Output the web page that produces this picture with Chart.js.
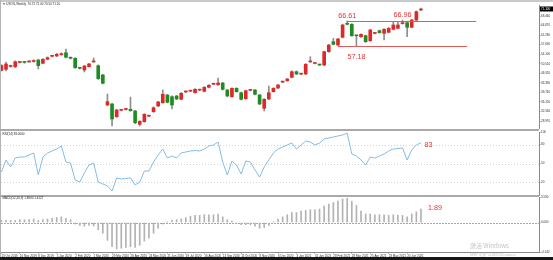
<!DOCTYPE html>
<html><head><meta charset="utf-8">
<script src="https://cdn.jsdelivr.net/npm/chart.js@4.4.0/dist/chart.umd.min.js"></script>
<style>
html,body{margin:0;padding:0;background:#fff;overflow:hidden;}
#wrap{position:relative;width:553px;height:260px;overflow:hidden;background:#fff;}
#wrap canvas{position:absolute;left:0;}
.bar{position:absolute;}
</style></head><body>
<div id="wrap">
 <div class="bar" style="left:0;top:0;width:553px;height:2px;background:#c9c9c9"></div>
 <div class="bar" style="left:0;top:0;width:1px;height:257px;background:#b4b4b4"></div>
 <div class="bar" style="left:0;top:129px;width:539px;height:2px;background:#a9a9a9"></div>
 <div class="bar" style="left:0;top:194.5px;width:539px;height:2px;background:#a9a9a9"></div>
 <div class="bar" style="left:0;top:257px;width:553px;height:3px;background:#151515"></div>
 <canvas id="c1" width="553" height="129" style="top:2px"></canvas>
 <canvas id="c2" width="553" height="69" style="top:129px"></canvas>
 <canvas id="c3" width="553" height="63" style="top:194px"></canvas>
</div>
<script>
// ---------------- data (weekly candles) ----------------
const opens  = [48.0,48.42,49.48,49.40,51.0,51.1,51.2,51.36,51.92,50.68,52.18,53.3,53.42,53.91,54.66,52.86,52.56,48.9,48.16,49.40,51.2,49.78,46.28,35.00,35.38,30.60,33.0,33.3,33.38,32.74,27.74,28.72,30.8,32.48,34.62,35.87,38.76,38.12,38.38,37.14,39.9,40.2,39.62,40.6,40.15,41.66,42.8,42.63,43.27,40.64,38.12,41.28,39.62,37.37,40.5,40.64,38.76,33.76,37.26,40.00,41.39,43.6,44.14,45.42,47.52,46.6,46.66,51.2,50.6,50.1,50.04,55.04,58.80,57.56,60.46,65.72,65.34,61.1,60.68,61.06,59.18,61.9,62.94,61.96,62.34,63.46,63.84,65.6,65.95,64.21,66.96,70.72];
const highs  = [50.2,51.17,50.0,51.6,51.4,51.4,51.6,52.0,52.2,52.5,53.1,53.7,54.4,54.6,56.06,53.1,52.8,49.1,49.9,50.7,52.67,50.1,46.5,39.13,35.6,33.4,33.4,33.7,38.0,33.0,29.1,31.8,31.1,34.3,36.4,40.64,39.0,38.4,38.6,39.7,40.3,40.5,41.2,40.9,41.9,42.7,43.2,45.15,43.5,40.9,41.5,41.5,39.9,40.6,40.9,40.9,39.0,37.4,42.14,41.5,42.8,44.0,45.0,47.8,47.8,46.9,50.6,53.16,50.9,50.3,55.3,57.8,60.08,60.1,65.4,66.61,65.6,61.3,61.8,61.3,63.5,62.2,63.2,63.7,64.1,66.3,66.5,66.96,66.3,67.2,70.4,71.4];
const lows   = [47.8,47.78,49.2,49.0,50.8,50.7,51.0,51.1,48.54,50.4,52.0,53.1,53.2,53.7,52.7,52.3,48.8,48.5,47.41,49.2,51.0,44.6,42.9,34.7,27.10,30.3,32.8,33.1,32.6,28.0,27.10,28.5,30.6,32.2,34.4,35.6,35.8,33.50,37.0,36.9,39.7,40.0,39.4,40.4,39.9,41.4,42.6,42.4,40.6,38.1,37.9,39.8,36.9,37.1,40.3,38.8,35.1,32.74,37.0,39.8,41.1,43.4,43.9,45.2,46.4,46.4,46.4,51.0,50.4,49.8,49.8,54.8,57.6,57.3,60.2,65.1,60.8,57.18,60.4,58.5,58.9,61.7,62.0,59.44,62.1,63.2,63.6,65.4,60.68,64.0,66.7,70.5];
const closes = [49.9,50.42,49.66,51.28,51.1,51.0,51.3,51.73,49.78,52.18,52.78,53.42,54.06,54.29,52.94,52.56,49.02,48.8,49.66,50.42,51.28,44.89,43.16,36.24,29.74,33.12,33.12,33.38,32.86,28.34,28.87,31.50,30.86,33.98,36.13,39.02,36.02,35.00,37.26,39.40,40.0,40.26,40.90,40.64,41.66,42.41,42.90,43.27,40.90,38.38,41.28,40.00,37.14,40.38,40.64,39.02,35.38,37.14,39.62,41.28,42.52,43.76,44.78,47.52,46.66,46.66,50.30,51.28,50.68,50.04,55.04,57.56,57.82,59.82,65.08,65.34,61.06,61.0,61.58,58.80,63.20,61.96,62.19,63.46,63.84,65.08,65.08,65.72,64.21,66.96,70.08,71.10];
const rsiValues  = [36.5,55.6,44.4,58.7,60.3,60.3,63.5,66.7,31.7,60.3,66.7,69.8,73.0,77.8,52.4,50.8,23.8,20.6,34.9,47.6,50.8,20.6,17.5,14.3,6.3,27.0,25.4,26.2,27.0,15.9,20.6,38.0,38.0,52.4,63.5,73.0,58.7,61.9,58.7,66.7,68.3,69.8,70.6,69.8,73.0,77.8,79.4,84.1,52.4,31.7,54.0,47.6,33.3,54.0,52.4,39.7,28.6,44.4,55.6,66.7,73.0,76.2,79.4,82.5,73.0,79.4,85.7,84.1,79.4,82.5,88.9,90.5,92.1,93.7,95.2,98.4,65.1,61.9,55.6,47.6,60.3,58.7,61.9,65.1,69.8,73.0,73.8,74.6,55.6,71.4,79.4,83.0];
const macdValues = [0.3,0.3,0.3,0.3,0.4,0.4,0.4,0.5,0.3,0.4,0.5,0.6,0.7,0.8,0.6,0.4,-0.2,-0.4,-0.5,-0.4,-0.5,-1.0,-1.5,-2.5,-3.4,-3.7,-3.6,-3.5,-3.4,-3.5,-3.2,-2.6,-2.2,-1.5,-0.8,-0.2,0.1,0.3,0.4,0.5,0.7,0.9,1.0,1.0,1.1,1.1,1.1,1.2,0.8,0.4,0.2,-0.1,-0.3,-0.3,-0.3,-0.5,-0.8,-0.7,-0.4,0.1,0.5,0.8,1.1,1.4,1.4,1.6,1.7,1.8,1.8,1.9,2.3,2.6,2.8,3.0,3.3,3.4,3.0,2.4,1.6,1.2,1.2,1.1,1.1,1.1,1.0,1.1,1.0,1.0,0.8,1.2,1.5,1.89];
const macdSignal = 1.4127;
const priceTicks = [68.46,64.87,61.28,57.69,54.10,50.51,46.92,43.33,39.74,36.15,32.56,28.97];
const rsiTicks = [100,80,50,20];
const rsiLevels = [80,50,20];
const macdTicks = [3.59,0,-4.14];
const tickLabels = ['13 Oct 2019','10 Nov 2019','8 Dec 2019','5 Jan 2020','2 Feb 2020','1 Mar 2020','29 Mar 2020','26 Apr 2020','24 May 2020','21 Jun 2020','19 Jul 2020','16 Aug 2020','13 Sep 2020','11 Oct 2020','8 Nov 2020','6 Dec 2020','3 Jan 2021','31 Jan 2021','28 Feb 2021','28 Mar 2021','25 Apr 2021','23 May 2021','20 Jun 2021'];
const TICK_EVERY = 4;
const symbolTitle = 'USOIL,Weekly';
// annotations: indices of marked candles and level lines (in candle units)
const highMarks = [75, 87];
const lowMarks = [77];
const levelLines = [{value: 66.61, from: 75, to: 103}, {value: 57.18, from: 73, to: 101}];

// ---------------- config ----------------
const FONT = '"Liberation Sans", Arial, sans-serif';
const UP = '#dc2a2a', DOWN = '#1e8c22', WICK = '#8e8e8e';
const XMIN = -0.087, XMAX = 116.6;
const last = closes.length - 1;
Chart.defaults.font.family = FONT;

const xHidden = {type:'linear', min:XMIN, max:XMAX, offset:false, grid:{offset:false}, display:false};
function rightAxis(min, max, ticks, fmt){
  return {type:'linear', position:'right', min, max,
    afterFit(s){ s.width = 14; },
    afterBuildTicks(s){ s.ticks = ticks.map(v => ({value:v})); },
    ticks:{font:{size:3}, color:'#333', padding:0.5, autoSkip:false, callback:fmt},
    grid:{drawOnChartArea:false, tickLength:1.5, color:'#888'},
    border:{color:'#8a8a8a'}};
}
const common = {responsive:false, animation:false, events:[], plugins:{legend:{display:false}, tooltip:{enabled:false}}};

// ---- main price pane ----
const mainText = {
  id:'mainText',
  afterDatasetsDraw(chart){
    const {ctx, scales:{x, y}, chartArea:a} = chart;
    ctx.save();
    ctx.strokeStyle = '#e05a5a'; ctx.lineWidth = 1;
    levelLines.forEach(L => {
      const py = Math.round(y.getPixelForValue(L.value)) + 0.5;
      ctx.beginPath(); ctx.moveTo(x.getPixelForValue(L.from), py); ctx.lineTo(x.getPixelForValue(L.to), py); ctx.stroke();
    });
    ctx.fillStyle = '#e03434'; ctx.font = '7.2px ' + FONT; ctx.textAlign = 'center';
    ctx.textBaseline = 'alphabetic';
    highMarks.forEach(k => ctx.fillText(highs[k].toFixed(2), x.getPixelForValue(k), y.getPixelForValue(highs[k]) - 3.3));
    ctx.textBaseline = 'top';
    lowMarks.forEach(k => ctx.fillText(lows[k].toFixed(2), x.getPixelForValue(k), y.getPixelForValue(lows[k]) + 7.5));
    // last price box
    const py = y.getPixelForValue(closes[last]);
    ctx.fillStyle = '#000'; ctx.fillRect(a.right + 1, py - 2.5, chart.width - a.right - 1, 5);
    ctx.fillStyle = '#fff'; ctx.font = '3px ' + FONT; ctx.textAlign = 'left'; ctx.textBaseline = 'middle';
    ctx.fillText(closes[last].toFixed(3), a.right + 2, py);
    // title
    ctx.fillStyle = '#222'; ctx.textBaseline = 'top'; ctx.font = '3px ' + FONT;
    ctx.fillText('\u25BC ' + symbolTitle + '  ' + [opens[last], highs[last], lows[last], closes[last]].map(v => v.toFixed(2)).join(' '), 2.5, 0.9);
    ctx.restore();
  }
};
new Chart(document.getElementById('c1'), {
  type:'bar',
  data:{datasets:[
    {data: opens.map((o, j) => ({x:j, y:[o, closes[j]]})), grouped:false, barThickness:3, minBarLength:1, borderWidth:0,
     backgroundColor: c => closes[c.dataIndex] >= opens[c.dataIndex] ? UP : DOWN},
    {data: lows.map((l, j) => ({x:j, y:[l, highs[j]]})), grouped:false, barThickness:1, borderWidth:0, backgroundColor: WICK}
  ]},
  options:{...common, layout:{padding:{left:1, right:0, top:3, bottom:3}},
    scales:{x:xHidden, y:rightAxis(26.35, 72.6, priceTicks, v => v.toFixed(3))}},
  plugins:[mainText]
});

// ---- RSI pane ----
const rsiText = {
  id:'rsiText',
  beforeDatasetsDraw(chart){
    const {ctx, scales:{y}, chartArea:a} = chart;
    ctx.save(); ctx.strokeStyle = '#d4d4d4'; ctx.lineWidth = 1; ctx.setLineDash([1, 2]);
    rsiLevels.forEach(v => { const py = Math.round(y.getPixelForValue(v)) + 0.5; ctx.beginPath(); ctx.moveTo(a.left, py); ctx.lineTo(a.right, py); ctx.stroke(); });
    ctx.restore();
  },
  afterDatasetsDraw(chart){
    const {ctx, scales:{x, y}} = chart;
    ctx.save();
    ctx.fillStyle = '#222'; ctx.font = '3px ' + FONT; ctx.textBaseline = 'top'; ctx.textAlign = 'left';
    ctx.fillText('RSI(14) ' + rsiValues[last].toFixed(4), 2.5, 3.8);
    ctx.fillStyle = '#e03434'; ctx.font = '7.2px ' + FONT; ctx.textBaseline = 'middle';
    ctx.fillText(String(Math.round(rsiValues[last])), x.getPixelForValue(last) + 3.5, y.getPixelForValue(rsiValues[last]) + 2.5);
    ctx.restore();
  }
};
new Chart(document.getElementById('c2'), {
  type:'line',
  data:{datasets:[{data: rsiValues.map((v, j) => ({x:j, y:v})), borderColor:'#86bbe6', borderWidth:1, pointRadius:0, tension:0, fill:false}]},
  options:{...common, layout:{padding:{left:1, right:0, top:3, bottom:3}},
    scales:{x:xHidden, y:rightAxis(0, 100, rsiTicks, v => String(v))}},
  plugins:[rsiText]
});

// ---- MACD pane ----
const macdText = {
  id:'macdText',
  beforeDatasetsDraw(chart){
    const {ctx, scales:{y}, chartArea:a} = chart;
    ctx.save(); ctx.strokeStyle = '#e88a8a'; ctx.lineWidth = 1; ctx.setLineDash([2, 1]);
    const py = Math.round(y.getPixelForValue(0)) + 0.5;
    ctx.beginPath(); ctx.moveTo(a.left, py); ctx.lineTo(a.right, py); ctx.stroke();
    ctx.restore();
  },
  afterDatasetsDraw(chart){
    const {ctx, scales:{x, y}} = chart;
    ctx.save();
    ctx.fillStyle = '#222'; ctx.font = '3px ' + FONT; ctx.textBaseline = 'top'; ctx.textAlign = 'left';
    ctx.fillText('MACD(12,26,9) ' + macdValues[last].toFixed(4) + ' ' + macdSignal.toFixed(4), 2.5, 2.8);
    ctx.fillStyle = '#e03434'; ctx.font = '7.2px ' + FONT; ctx.textBaseline = 'middle';
    ctx.fillText(macdValues[last].toFixed(2), x.getPixelForValue(last) + 7, y.getPixelForValue(macdValues[last]) - 1);
    // Windows activation watermark
    ctx.fillStyle = '#c2c2c2'; ctx.textBaseline = 'top';
    ctx.font = '6px "Noto Sans CJK SC", ' + FONT;
    ctx.fillText('激活 Windows', 470, 48.5);
    ctx.font = '3.6px "Noto Sans CJK SC", ' + FONT;
    ctx.fillText('转到"设置"以激活 Windows。', 470, 58.6);
    ctx.restore();
  }
};
new Chart(document.getElementById('c3'), {
  type:'bar',
  data:{datasets:[{data: macdValues.map((v, j) => ({x:j, y:v})), grouped:false, barThickness:1, borderWidth:0, backgroundColor:'#b2b2b2'}]},
  options:{...common, layout:{padding:{left:1, right:0, top:3, bottom:0}},
    scales:{
      x:{type:'linear', position:'bottom', min:XMIN, max:XMAX, offset:false,
         afterFit(s){ s.height = 5; },
         afterBuildTicks(s){ s.ticks = tickLabels.map((_, k) => ({value: k * TICK_EVERY})); },
         ticks:{autoSkip:false, maxRotation:0, minRotation:0, align:'start', font:{size:3}, color:'#333', padding:0.5,
                callback:(v, i) => tickLabels[i]},
         grid:{drawOnChartArea:false, offset:false, tickLength:1.5, color:'#888'},
         border:{color:'#8a8a8a'}},
      y:rightAxis(-4.14, 3.59, macdTicks, v => v.toFixed(3))}},
  plugins:[macdText]
});
</script>
</body></html>
